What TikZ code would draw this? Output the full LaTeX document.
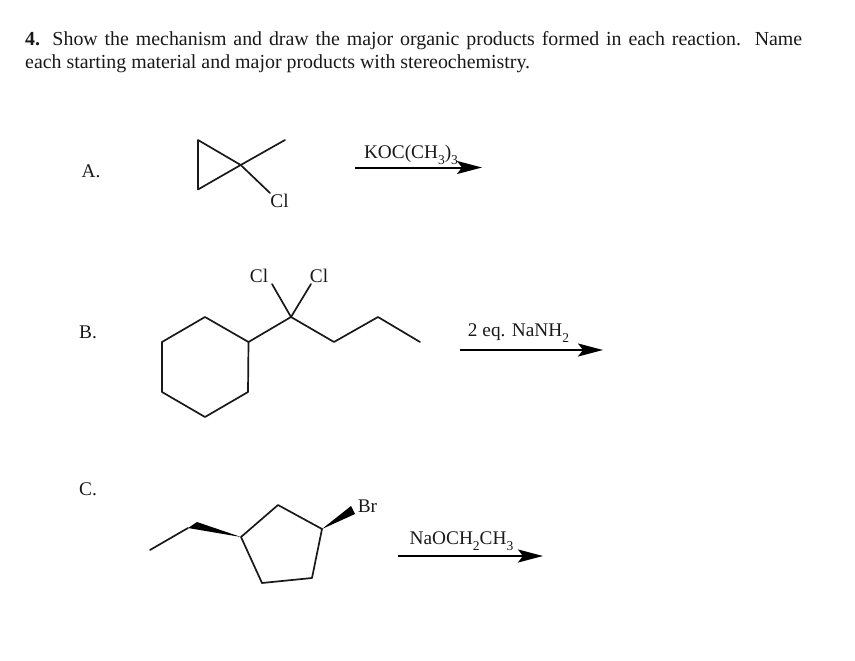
\documentclass[tikz,border=0pt]{standalone}
\usepackage{fontspec}
\setmainfont{Liberation Serif}
\usetikzlibrary{arrows.meta}
\newcommand{\sbs}[1]{\raisebox{-0.65ex}{\fontsize{13.5}{14}\selectfont #1}}
\tikzset{
  bond/.style={line width=1.7pt,line cap=round,line join=round,draw=black!90},
  rxn/.style={line width=2pt,draw=black,-{Stealth[length=25pt,width=13pt,inset=5pt]}},
  lab/.style={inner sep=0pt,font=\fontsize{19.3}{22}\selectfont,text=black!90},
  atom/.style={inner sep=0pt,font=\fontsize{19.3}{20}\selectfont,text=black!90},
  title/.style={inner sep=0pt,anchor=base west,font=\fontsize{19.9}{24}\selectfont,text=black!90},
  wedge/.style={fill=black,draw=none}
}
\begin{document}
\begin{tikzpicture}[x=1pt,y=-1pt]
\useasboundingbox (0,0) rectangle (855,661);
\node[title] (t1) at (25,46) {\makebox[777pt][s]{\textbf{4.} Show the mechanism and draw the major organic products formed in each reaction.\ \ Name}};
\node[title] (t2) at (25,69) {each starting material and major products with stereochemistry.};
% labels
\node[lab] (la) at (91,171) {A.};
\node[lab] (lb) at (88,332) {B.};
\node[lab] (lc) at (88,489.5) {C.};
% A
\coordinate (a1) at (198,140);
\coordinate (a2) at (198,189.5);
\coordinate (a3) at (240.7,165);
\coordinate (a4) at (285,140);
\coordinate (a5) at (270,193);
\node[atom] (acl) at (279.5,201) {Cl};
\draw[bond] (a3) -- (a1) -- (a2) -- cycle;
\draw[bond] (a3) -- (a4);
\draw[bond] (a3) -- (a5);
\coordinate (as) at (355,167.5);
\coordinate (ae) at (482,167.5);
\draw[rxn] (as) -- (ae);
\node[lab,anchor=base] (ar) at (411,158.5) {KOC(CH\sbs{3})\sbs{3}};
% B
\coordinate (b1) at (205,317);
\coordinate (b2) at (248.5,342);
\coordinate (b3) at (248,392);
\coordinate (b4) at (205,417);
\coordinate (b5) at (162,392);
\coordinate (b6) at (162,342);
\coordinate (b7) at (291,317);
\coordinate (b8) at (334,342);
\coordinate (b9) at (378,317);
\coordinate (b10) at (420,342);
\coordinate (b11) at (272,284);
\coordinate (b12) at (311,284);
\node[atom] (bcl1) at (259,276) {Cl};
\node[atom] (bcl2) at (319,276) {Cl};
\draw[bond] (b1) -- (b2) -- (b3) -- (b4) -- (b5) -- (b6) -- cycle;
\draw[bond] (b2) -- (b7) -- (b8) -- (b9) -- (b10);
\draw[bond] (b7) -- (b11);
\draw[bond] (b7) -- (b12);
\coordinate (bs) at (460,350);
\coordinate (be) at (603,350);
\draw[rxn] (bs) -- (be);
\node[lab,anchor=base] (br) at (518.5,336.5) {2 eq. NaNH\sbs{2}};
% C
\coordinate (c1) at (241,537);
\coordinate (c2) at (278,505);
\coordinate (c3) at (322,529);
\coordinate (c4) at (312,578);
\coordinate (c5) at (262,583);
\coordinate (c6a) at (197,522);
\coordinate (c6b) at (188,528);
\coordinate (c7) at (150,550);
\coordinate (c8a) at (351,506);
\coordinate (c8b) at (355,514);
\node[atom] (cbr) at (367.5,506) {Br};
\draw[bond] (c1) -- (c2) -- (c3) -- (c4) -- (c5) -- cycle;
\draw[bond] (c6b) -- (c7);
\fill[wedge] (c1) -- (c6a) -- (c6b) -- cycle;
\fill[wedge] (c3) -- (c8a) -- (c8b) -- cycle;
\coordinate (cs) at (398,556);
\coordinate (ce) at (543,556);
\draw[rxn] (cs) -- (ce);
\node[lab,anchor=base] (cr) at (461.5,544.5) {NaOCH\sbs{2}CH\sbs{3}};
\end{tikzpicture}
\end{document}
